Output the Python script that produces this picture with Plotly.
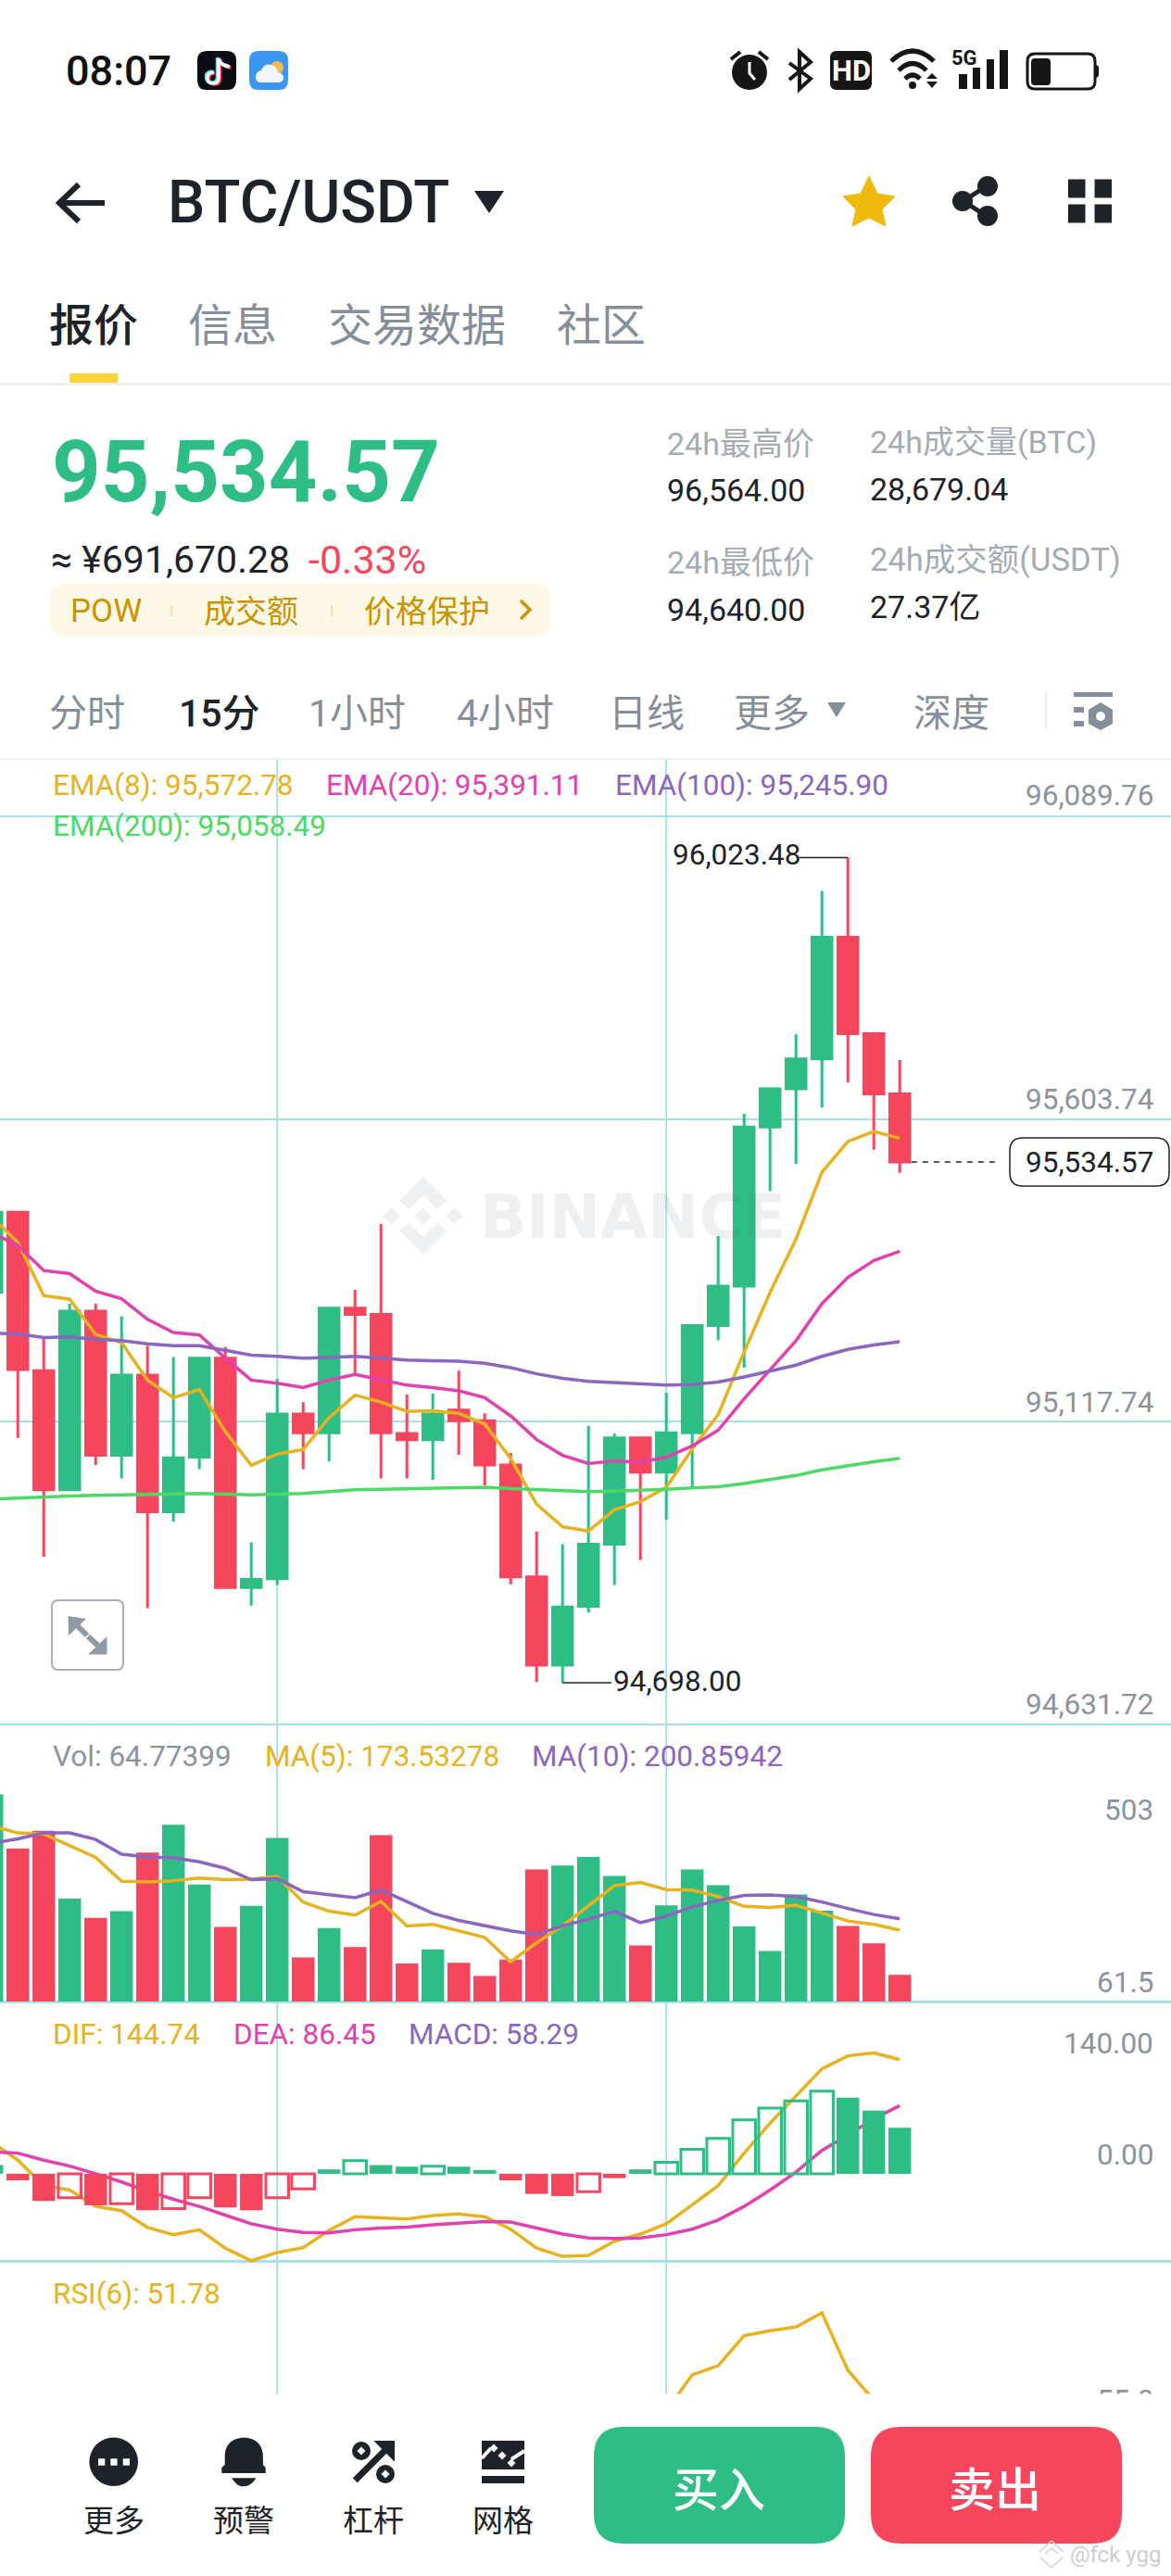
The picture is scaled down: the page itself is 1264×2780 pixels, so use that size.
import plotly.graph_objects as go

# *** Chart values

# candle index, -1 is the candle cut off by the left edge
INDEX = list(range(-1, 35))

OPEN = [95325.0, 95453.8, 95199.3, 95008.1, 95294.8, 95063.4, 95192.2, 94972.9, 95060.4, 95219.4, 94851.1, 94865.2,
        95129.8, 95099.6, 95299.9, 95289.8, 95098.6, 95088.6, 95135.9, 95118.8, 95047.8, 94868.2, 94726.3, 94820.9,
        94920.5, 95091.6, 95036.3, 95099.6, 95271.7, 95335.1, 95590.7, 95652.0, 95700.3, 95895.5, 95740.6, 95644.0]
HIGH = [95453.8, 95453.8, 95252.6, 95306.9, 95306.9, 95286.8, 95239.5, 95221.4, 95219.4, 95237.5, 94923.6, 95186.2,
        95148.9, 95299.9, 95329.1, 95434.7, 95161.0, 95163.0, 95199.3, 95130.8, 95067.4, 94940.7, 94920.5, 95110.7,
        95098.6, 95091.6, 95164.0, 95271.7, 95415.6, 95611.8, 95652.0, 95739.6, 95970.0, 96023.48, 95740.6, 95698.3]
LOW = [95325.0, 95091.6, 94900.4, 95008.1, 95047.8, 95026.2, 94817.9, 94956.8, 95041.3, 94851.1, 94821.9, 94855.1,
       95041.3, 95053.4, 95194.3, 95026.2, 95026.2, 95024.2, 95064.4, 95015.1, 94856.1, 94699.2, 94698.0, 94810.9,
       94855.1, 94895.4, 94959.8, 95010.1, 95248.6, 95204.3, 95488.0, 95531.3, 95621.9, 95662.1, 95554.4, 95517.2]
CLOSE = [95453.8, 95201.3, 95008.1, 95294.8, 95063.4, 95192.2, 94972.9, 95059.4, 95219.4, 94851.1, 94864.2, 95129.8,
         95099.6, 95299.9, 95289.8, 95099.6, 95088.6, 95129.8, 95118.8, 95047.8, 94868.2, 94726.3, 94819.9, 94920.5,
         95091.6, 95036.3, 95099.6, 95271.7, 95335.1, 95590.7, 95652.0, 95700.3, 95895.5, 95740.6, 95644.0, 95534.57]

EMA8 = [95445.8, 95405.5, 95320.0, 95314.0, 95257.6, 95244.5, 95184.2, 95156.0, 95169.1, 95101.7, 95047.3, 95065.4,
        95072.5, 95123.8, 95160.0, 95148.9, 95133.9, 95134.9, 95130.8, 95113.7, 95058.4, 94984.9, 94948.7, 94941.7,
        94975.9, 94989.0, 95012.1, 95073.5, 95128.8, 95229.4, 95325.0, 95410.6, 95518.2, 95567.5, 95583.6, 95572.78]
EMA20 = [95420.6, 95400.5, 95360.2, 95355.2, 95327.0, 95315.0, 95281.8, 95260.6, 95256.6, 95219.4, 95184.2, 95179.1,
         95172.1, 95184.2, 95193.2, 95184.2, 95176.1, 95172.1, 95167.1, 95156.0, 95126.8, 95088.6, 95063.4, 95050.3,
         95054.4, 95052.3, 95060.4, 95078.5, 95103.7, 95154.0, 95201.3, 95247.6, 95306.9, 95349.2, 95376.3, 95391.11]
EMA100 = [95259.6, 95258.6, 95252.6, 95253.6, 95249.6, 95247.6, 95242.5, 95239.5, 95239.5, 95231.5, 95224.4, 95222.4,
          95219.4, 95220.4, 95222.4, 95219.4, 95216.4, 95215.4, 95214.4, 95211.3, 95204.3, 95194.3, 95187.2, 95182.1,
          95180.1, 95177.1, 95176.1, 95177.1, 95181.1, 95189.2, 95198.2, 95208.3, 95222.4, 95233.5, 95240.5, 95245.9]
EMA200 = [94993, 94995, 94996, 94998, 94999, 95000, 95000, 95001, 95002, 95001, 95000, 95001,
          95002, 95005, 95008, 95009, 95010, 95011, 95012, 95012, 95010, 95008, 95006, 95005,
          95006, 95007, 95009, 95011, 95013, 95018, 95024, 95031, 95040, 95047, 95053, 95058.49]

VOLUME = [503.7, 371.5, 415.1, 249.9, 203.6, 219.5, 362.2, 429.7, 284.2, 181.1, 232.7, 397.9,
          107.1, 178.5, 132.2, 404.5, 92.5, 126.9, 93.9, 62.1, 101.8, 321.2, 330.5, 351.7,
          305.4, 136.2, 234.0, 321.2, 282.9, 182.4, 122.9, 260.4, 220.8, 183.8, 141.5, 64.77]
VOL_MA5 = [427.0, 409.8, 407.2, 379.4, 350.3, 292.2, 290.8, 293.5, 300.1, 296.1, 297.5, 304.1,
           241.9, 219.5, 210.2, 243.2, 183.8, 187.7, 171.9, 156.0, 96.5, 142.8, 183.8, 232.7,
           281.6, 289.5, 272.3, 271.0, 255.1, 231.4, 228.7, 234.0, 214.2, 195.7, 187.7, 173.53]
VOL_MA10 = [384.7, 395.3, 409.8, 409.8, 394.0, 358.3, 351.7, 349.0, 339.8, 323.9, 296.1, 298.8,
            267.0, 259.1, 252.5, 271.0, 241.9, 214.2, 197.0, 183.8, 171.9, 162.6, 183.8, 199.6,
            219.5, 191.7, 207.6, 230.0, 245.9, 257.8, 259.1, 255.1, 241.9, 226.1, 211.5, 200.86]

DIF = [40.0, 17.3, -15.2, -20.7, -41.4, -46.9, -68.3, -77.3, -71.1, -94.5, -110.4, -100.0,
       -93.8, -71.8, -54.5, -55.9, -57.3, -53.1, -51.1, -54.5, -70.4, -94.5, -104.9, -103.5,
       -85.6, -76.6, -63.5, -39.3, -15.2, 26.2, 64.2, 98.7, 133.2, 149.7, 153.2, 144.74]
DEA = [27.6, 26.2, 17.3, 9.7, 0.0, -10.4, -22.1, -32.4, -41.4, -52.4, -63.5, -70.4,
       -74.5, -75.2, -71.1, -69.0, -67.6, -64.9, -62.8, -60.7, -61.4, -69.0, -76.6, -81.4,
       -82.1, -81.4, -77.3, -70.4, -58.7, -41.4, -20.7, 2.1, 29.7, 49.0, 69.7, 86.45]
MACD = [11.0, -8.3, -34.5, -30.4, -40.0, -38.0, -46.2, -44.2, -30.4, -42.8, -46.2, -30.4,
        -19.3, 5.5, 16.6, 11.0, 9.0, 9.7, 9.0, 4.8, -8.3, -25.5, -28.3, -22.8,
        -5.5, 5.5, 14.5, 31.0, 44.9, 68.3, 83.5, 92.5, 104.9, 96.6, 80.0, 58.29]
# bars that are drawn as an outline only
MACD_HOLLOW = [0, 0, 0, 1, 0, 1, 0, 1, 1, 0, 0, 1,
               1, 0, 1, 0, 0, 1, 0, 0, 0, 0, 0, 1,
               0, 0, 1, 1, 1, 1, 1, 1, 1, 0, 0, 0]

RSI_INDEX = [25, 26, 27, 28, 29, 30, 31, 32, 33, 34]
RSI6 = [54.6, 63.2, 65.4, 72.6, 73.8, 74.7, 78.1, 64.3, 57.1, 51.78]

PRICE_TICKS = [96089.76, 95603.74, 95117.74, 94631.72]
LAST_PRICE = 95534.57
TOP_PRICE = 96023.48
BOTTOM_PRICE = 94698.0
GRID_CANDLES = [10, 25]

# *** Page geometry and colours
W, H = 1264, 2780
GREEN = "#2EBD85"
RED = "#F6465D"
DARK = "#1E2329"
GREY = "#8A939F"
LIGHT_GREY = "#A3ABB6"
YELLOW = "#E8B21E"
MAGENTA = "#E23FB0"
PURPLE = "#8B66BE"
LIME = "#4CD964"
GRID = "#A6DFE8"
FONT = "Roboto, Noto Sans CJK SC"
CJK = "Noto Sans CJK SC, Roboto"
LINE_W = 3.5


def xp(x):
    return x / W


def yp(y):
    return 1 - y / H


def dom(top, bottom):
    return [yp(bottom), yp(top)]


shapes = []
notes = []


def text(x, y, s, size, color, anchor="left", weight=400, family=FONT):
    notes.append(dict(x=xp(x), y=yp(y), xref="paper", yref="paper", text=s, showarrow=False,
                      xanchor=anchor, yanchor="middle", borderpad=0,
                      font=dict(size=size, color=color, family=family, weight=weight)))


def box(x0, y0, x1, y1, fill):
    shapes.append(dict(type="rect", xref="paper", yref="paper", x0=xp(x0), x1=xp(x1), y0=yp(y0), y1=yp(y1),
                       fillcolor=fill, line_width=0))


def ring(cx, cy, r, fill, line_color=None, line_width=0):
    shapes.append(dict(type="circle", xref="paper", yref="paper", x0=xp(cx - r), x1=xp(cx + r), y0=yp(cy - r),
                       y1=yp(cy + r), fillcolor=fill, line=dict(color=line_color, width=line_width)))


def path(d, fill=None, line_color=None, line_width=0, layer="above"):
    # d is "M x y L x y ..." in screen pixels
    out, is_x = [], True
    for tok in d.split():
        if tok.isalpha():
            out.append(tok)
        else:
            out.append(str(xp(float(tok)) if is_x else yp(float(tok))))
            is_x = not is_x
    s = dict(type="path", xref="paper", yref="paper", path=" ".join(out), layer=layer,
             line=dict(color=line_color, width=line_width))
    if fill:
        s["fillcolor"] = fill
    shapes.append(s)


def rounded(x0, y0, x1, y1, r):
    return (f"M {x0 + r} {y0} L {x1 - r} {y0} Q {x1} {y0} {x1} {y0 + r} L {x1} {y1 - r} Q {x1} {y1} {x1 - r} {y1} "
            f"L {x0 + r} {y1} Q {x0} {y1} {x0} {y1 - r} L {x0} {y0 + r} Q {x0} {y0} {x0 + r} {y0} Z")


# *** Status bar
text(70, 76, "08:07", 45, "#111111", weight=500)
path(rounded(213, 55, 255, 97, 10), "#0B0B14")
for col, dx, dy in (("#25F4EE", -1.5, -1), ("#FE2C55", 1.5, 1), ("#FFFFFF", 0, 0)):
    path(f"M {236 + dx} {63 + dy} L {236 + dx} {84 + dy} Q {236 + dx} {90 + dy} {230 + dx} {90 + dy} "
         f"Q {224 + dx} {90 + dy} {224 + dx} {84 + dy} Q {224 + dx} {78 + dy} {231 + dx} {78 + dy} "
         f"M {236 + dx} {63 + dy} Q {238 + dx} {71 + dy} {248 + dx} {72 + dy}", None, col, 3.5)
path(rounded(269, 55, 311, 97, 10), "#3A97F4")
ring(299, 73, 7, "#F6BC45")
path("M 282 89 Q 276 89 276 83 Q 276 77 282 76 Q 285 68 293 70 Q 299 72 300 78 Q 306 79 306 84 Q 306 89 300 89 Z",
     "#F2F6FC")

ring(809, 78, 19, "#161616")
path("M 789 64 L 799 56 M 819 56 L 829 64", None, "#161616", 4)
path("M 809 67 L 809 79 L 815 86", None, "#FFFFFF", 3)
path("M 852 68 L 875 85 L 863 96 L 863 56 L 875 67 L 852 86", None, "#161616", 4)
path(rounded(896, 55, 941, 97, 7), "#161616")
text(918.5, 76, "HD", 31, "#FFFFFF", "center", 700)
path("M 962 66 Q 985 44 1008 66", None, "#161616", 5)
path("M 970 76 Q 985 61 1000 76", None, "#161616", 5)
path("M 977 85 Q 985 77 993 85", None, "#161616", 5)
ring(985, 92, 4, "#161616")
path("M 1000 85 L 1012 85 L 1006 79 Z", "#161616")
path("M 1000 88 L 1012 88 L 1006 95 Z", "#161616")
text(1041, 62, "5G", 22, "#161616", "center", 700)
box(1035, 80, 1044, 96, "#161616")
box(1050, 73, 1058, 96, "#161616")
box(1065, 64, 1073, 96, "#161616")
box(1079, 54, 1088, 96, "#161616")
path(rounded(1109, 58, 1182, 96, 8), None, "#161616", 3)
path(rounded(1113, 63, 1134, 92, 4), "#161616")
path("M 1182 70 Q 1186 70 1186 74 L 1186 80 Q 1186 84 1182 84 Z", "#161616")

# *** Title row
path("M 113 219 L 65 219 M 85 199 L 64 219 L 85 239", None, DARK, 6)
text(180, 219, "BTC/USDT", 64, DARK, weight=500)
path("M 512 206 L 544 206 L 528 230 Z", DARK)
path("M 938 190 L 947 209 L 966 212 L 952 226 L 956 244 L 938 235 L 920 244 L 924 226 L 910 212 L 929 209 Z",
     "#F0B90B", "#F0B90B", 1)
path("M 1066 200 L 1040 217 L 1066 234", None, DARK, 5)
ring(1066, 201, 11, DARK)
ring(1039, 217, 11, DARK)
ring(1066, 233, 11, DARK)
box(1153, 193.5, 1171.5, 213.5, DARK)
box(1181.5, 193.5, 1200, 213.5, DARK)
box(1153, 220.5, 1171.5, 240.5, DARK)
box(1181.5, 220.5, 1200, 240.5, DARK)

# *** Tabs
text(52, 347, "报价", 48, DARK, family=CJK, weight=500)
text(202, 347, "信息", 48, "#858E9B", family=CJK)
text(353, 347, "交易数据", 48, "#858E9B", family=CJK)
text(600, 347, "社区", 48, "#858E9B", family=CJK)
box(75, 403, 127, 413, "#FCD535")
box(0, 413, W, 416, "#EEF0F2")

# *** Price block
text(55, 509, "95,534.57", 92, GREEN, weight=700)
text(54, 604, "≈ ¥691,670.28", 41, DARK)
text(332, 604, "-0.33%", 43, RED)
path(rounded(54, 630, 594, 686, 16), "#FDF7E6")
text(75, 659, "POW", 35, "#C99400")
text(219, 657, "成交额", 34, "#C99400", family=CJK)
text(392, 657, "价格保护", 34, "#C99400", family=CJK)
box(184, 653, 186, 665, "#F4E3B0")
box(357, 653, 359, 665, "#F4E3B0")
path("M 562 648 L 572 658 L 562 668", None, "#C99400", 3.5)
text(719, 479, "24h最高价", 34, LIGHT_GREY)
text(719, 529, "96,564.00", 34, DARK)
text(719, 607, "24h最低价", 34, LIGHT_GREY)
text(719, 658, "94,640.00", 34, DARK)
text(938, 477, "24h成交量(BTC)", 34, LIGHT_GREY)
text(938, 528, "28,679.04", 34, DARK)
text(938, 605, "24h成交额(USDT)", 34.5, LIGHT_GREY)
text(938, 655, "27.37亿", 34, DARK)

# *** Interval row
for lab, x in (("分时", 52), ("1小时", 332), ("4小时", 492), ("日线", 656), ("更多", 791), ("深度", 985)):
    text(x, 770, lab, 41, "#858E9B")
text(192, 770, "15分", 41, DARK, weight=500)
path("M 893 758 L 913 758 L 903 774 Z", "#858E9B")
box(1128, 747, 1130, 787, "#EAECEF")
box(1159, 747, 1201, 752, "#858E9B")
box(1159, 763, 1170, 769, "#858E9B")
box(1159, 778, 1170, 784, "#858E9B")
path("M 1188 758 L 1201 766 L 1201 781 L 1188 788 L 1175 781 L 1175 766 Z", "#858E9B")
ring(1188, 773, 5, "#FFFFFF")
box(0, 818, W, 820, "#EEF0F2")

# *** Watermark in the price panel
for dy in (1, -1):
    c = 1312.3
    path(f"M 456.7 {c - dy * 42.3} L 482.7 {c - dy * 16.3} L 471.7 {c - dy * 7.3} L 456.7 {c - dy * 23} "
         f"L 441.7 {c - dy * 7.3} L 430.7 {c - dy * 16.3} Z", "#EEF0F1", layer="below")
for cx in (422.7, 456.7, 490.7):
    path(f"M {cx} 1303 L {cx + 9.3} 1312.3 L {cx} 1321.6 L {cx - 9.3} 1312.3 Z", "#EEF0F1", layer="below")
text(517, 1313, "BINANCE", 66, "rgba(90,100,110,0.1)", weight=700, family="DejaVu Sans")

# *** Panel legends and axis labels
text(56, 847, "EMA(8): 95,572.78", 31.5, YELLOW)
text(351, 847, "EMA(20): 95,391.11", 31.5, MAGENTA)
text(663, 847, "EMA(100): 95,245.90", 31.5, PURPLE)
text(56, 892, "EMA(200): 95,058.49", 31.5, LIME)
for lab, y in (("96,089.76", 858.5), ("95,603.74", 1186), ("95,117.74", 1513), ("94,631.72", 1839)):
    text(1246, y, lab, 31.5, GREY, "right")
text(1246, 1953, "503", 31.5, GREY, "right")
text(1246, 2139, "61.5", 31.5, GREY, "right")
text(1246, 2205, "140.00", 31.5, GREY, "right")
text(1246, 2325, "0.00", 31.5, GREY, "right")
text(1246, 2590, "55.0", 31.5, GREY, "right")
# white strip that cuts the last axis label the way the toolbar does
notes.append(dict(x=xp(1215), y=yp(2597), xref="paper", yref="paper", text=" ", showarrow=False, width=80, height=27,
                  bgcolor="#FFFFFF", borderpad=0, xanchor="center", yanchor="middle"))
text(56, 1896, "Vol: 64.77399", 31.5, GREY)
text(285, 1896, "MA(5): 173.53278", 31.5, YELLOW)
text(573, 1896, "MA(10): 200.85942", 31.5, PURPLE)
text(56, 2195, "DIF: 144.74", 31.5, YELLOW)
text(251, 2195, "DEA: 86.45", 31.5, MAGENTA)
text(440, 2195, "MACD: 58.29", 31.5, PURPLE)
text(56, 2475, "RSI(6): 51.78", 31.5, YELLOW)
text(725, 923, "96,023.48", 31.5, DARK)
text(661, 1814, "94,698.00", 31.5, DARK)
path(rounded(1090, 1228, 1262, 1280, 14), "#FFFFFF", DARK, 1.5)
text(1176, 1254, "95,534.57", 31.5, DARK, "center")

# *** Expand button
path(rounded(56, 1727, 133, 1802, 7), "#FFFFFF", "#A9AFB8", 2)
path("M 73.5 1744 L 93 1747 L 74 1765 Z", "#9199A5")
path("M 84 1755 L 94 1765", None, "#9199A5", 6)
path("M 115.5 1785.5 L 95 1785.5 L 115.5 1766 Z", "#9199A5")
path("M 95 1766 L 106 1776", None, "#9199A5", 6)

# *** Bottom bar
ring(122.7, 2656.7, 26.3, DARK)
for x0 in (106, 119.3, 132.7):
    box(x0, 2653.3, x0 + 7.3, 2660.7, "#FFFFFF")
path("M 242.7 2660 L 242.7 2651 C 242.7 2637 252 2630.7 263.3 2630.7 C 274.6 2630.7 283.9 2637 283.9 2651 "
     "L 283.9 2660 L 286.7 2663 L 286.7 2669 L 239.3 2669 L 239.3 2663 Z", DARK)
path("M 250 2674.3 L 276.5 2674.3 Q 271 2683.3 263 2683.3 Q 255.5 2683.3 250 2674.3 Z", DARK)
path("M 383.3 2676.7 L 418 2642", None, DARK, 7)
path("M 403.3 2634 L 426 2634 L 426 2656.7 Z", DARK)
for cx, cy in ((390, 2645), (416, 2670)):
    ring(cx, cy, 10, DARK)
    path(f"M {cx} {cy - 4.5} L {cx + 4.5} {cy} L {cx} {cy + 4.5} L {cx - 4.5} {cy} Z", "#FFFFFF")
box(520, 2634, 566, 2665, DARK)
box(520, 2672, 566, 2680, DARK)
path("M 520 2653 L 530 2642 M 552 2654 L 566 2645", None, "#FFFFFF", 4)
for cx, cy in ((533, 2642), (542, 2650), (552, 2658)):
    path(f"M {cx} {cy - 4.5} L {cx + 4.5} {cy} L {cx} {cy + 4.5} L {cx - 4.5} {cy} Z", "#FFFFFF")
for lab, x in (("更多", 122.5), ("预警", 263), ("杠杆", 403), ("网格", 543)):
    text(x, 2718, lab, 33, DARK, "center", family=CJK)
path(rounded(641, 2619, 912, 2745, 32), GREEN)
path(rounded(940, 2619, 1211, 2745, 32), RED)
text(776, 2683, "买入", 50, "#FFFFFF", "center", 500, CJK)
text(1074, 2683, "卖出", 50, "#FFFFFF", "center", 500, CJK)
path("M 1122 2754 L 1135 2742 L 1148 2754 M 1128 2756 L 1135 2750 L 1142 2756 M 1123 2760 L 1135 2771 L 1147 2760",
     None, "#CFCFCF", 1.5)
text(1154, 2757, "@fck ygg", 24, "#CDCDCD")

# *** Traces
vol_colors = [GREEN if c >= o else RED for o, c in zip(OPEN, CLOSE)]
macd_colors = [GREEN if v >= 0 else RED for v in MACD]
macd_fill = ["rgba(0,0,0,0)" if h else c for h, c in zip(MACD_HOLLOW, macd_colors)]
macd_line = [3 if h else 0 for h in MACD_HOLLOW]

fig = go.Figure()
fig.add_trace(go.Candlestick(x=INDEX, open=OPEN, high=HIGH, low=LOW, close=CLOSE, whiskerwidth=0,
                             line_width=3, increasing=dict(line_color=GREEN, fillcolor=GREEN),
                             decreasing=dict(line_color=RED, fillcolor=RED), yaxis="y"))
for values, color in ((EMA8, YELLOW), (EMA20, MAGENTA), (EMA100, PURPLE), (EMA200, LIME)):
    fig.add_trace(go.Scatter(x=INDEX, y=values, mode="lines", line=dict(color=color, width=LINE_W), yaxis="y"))

fig.add_trace(go.Bar(x=INDEX, y=VOLUME, width=0.875, marker=dict(color=vol_colors, line_width=0), yaxis="y2"))
fig.add_trace(go.Scatter(x=INDEX, y=VOL_MA5, mode="lines", line=dict(color=YELLOW, width=LINE_W), yaxis="y2"))
fig.add_trace(go.Scatter(x=INDEX, y=VOL_MA10, mode="lines", line=dict(color=PURPLE, width=LINE_W), yaxis="y2"))

fig.add_trace(go.Scatter(x=INDEX, y=DIF, mode="lines", line=dict(color=YELLOW, width=LINE_W), yaxis="y3"))
fig.add_trace(go.Scatter(x=INDEX, y=DEA, mode="lines", line=dict(color=MAGENTA, width=LINE_W), yaxis="y3"))
# the bars sit above the lines here, so they get their own overlaid axis
fig.add_trace(go.Bar(x=INDEX, y=MACD, width=0.875, yaxis="y5",
                     marker=dict(color=macd_fill, line=dict(color=macd_colors, width=macd_line))))

fig.add_trace(go.Scatter(x=RSI_INDEX, y=RSI6, mode="lines", line=dict(color=YELLOW, width=LINE_W), yaxis="y4"))

# price markers and the vertical grid lines
for c in GRID_CANDLES:
    shapes.append(dict(type="line", xref="x", yref="paper", x0=c, x1=c, y0=yp(820), y1=yp(2583.6), layer="below",
                       line=dict(color=GRID, width=2)))
shapes.append(dict(type="line", xref="x", yref="y", x0=30.13, x1=32, y0=TOP_PRICE, y1=TOP_PRICE,
                   line=dict(color=DARK, width=1.5)))
shapes.append(dict(type="line", xref="x", yref="y", x0=21, x1=22.89, y0=BOTTOM_PRICE, y1=BOTTOM_PRICE,
                   line=dict(color=DARK, width=1.5)))
shapes.append(dict(type="line", xref="x", yref="y", x0=34.45, x1=37.7, y0=LAST_PRICE, y1=LAST_PRICE,
                   line=dict(color=DARK, width=1.5, dash="6px,6px")))

hidden = dict(showticklabels=False, ticks="", zeroline=False, showline=False, fixedrange=True)
fig.update_layout(
    width=W,
    height=H,
    autosize=False,
    margin=dict(l=0, r=0, t=0, b=0),
    paper_bgcolor="#FFFFFF",
    plot_bgcolor="rgba(0,0,0,0)",
    showlegend=False,
    hovermode=False,
    barmode="overlay",
    boxgap=0.23,
    boxgroupgap=0,
    shapes=shapes,
    annotations=notes,
    xaxis=dict(domain=[0, 1], range=[-0.686, 44.457], showgrid=False, rangeslider=dict(visible=False), **hidden),
    yaxis=dict(domain=dom(820, 1864), range=[94626.7, 96180.5], tickmode="array", tickvals=PRICE_TICKS,
               gridcolor=GRID, gridwidth=2, **hidden),
    yaxis2=dict(domain=dom(1862, 2162), range=[-4.5, 671.4], tickmode="array", tickvals=[0],
                gridcolor=GRID, gridwidth=3, **hidden),
    yaxis3=dict(domain=dom(2160, 2442), range=[-113, 218.6], tickmode="array", tickvals=[-110.7],
                gridcolor=GRID, gridwidth=3, **hidden),
    yaxis4=dict(domain=dom(2442, 2583.6), range=[58.6, 90.1], showgrid=False, **hidden),
    yaxis5=dict(overlaying="y3", range=[-113, 218.6], showgrid=False, **hidden),
)

# plotly leaves the browser's default body margin, take it off so the page lines up with the window
fig.write_html("out.html", config={"displayModeBar": False}, post_script="document.body.style.margin='0';")
